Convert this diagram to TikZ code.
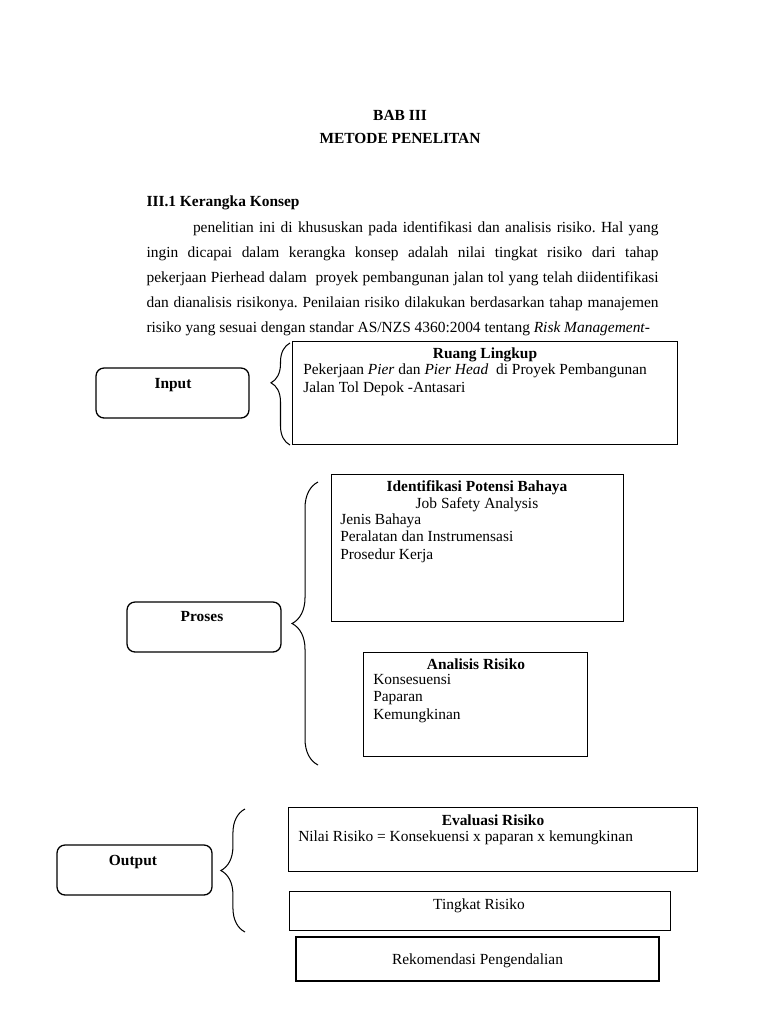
\documentclass[tikz,border=0pt]{standalone}
\usepackage{fontspec}
\setmainfont{Liberation Serif}
\usetikzlibrary{positioning,fit,decorations.pathreplacing}
\frenchspacing

\begin{document}
\begin{tikzpicture}[x=0.02734cm, y=-0.02734cm,
  font=\fontsize{12}{13.5}\selectfont,
  kotak/.style={draw, line width=0.7pt, inner sep=0pt},
  bulat/.style={draw, line width=1pt, rounded corners=2.2mm, inner sep=0pt},
  judul/.style={font=\fontsize{12}{13.5}\selectfont\bfseries, anchor=base, inner sep=0pt},
  isi/.style={align=left, anchor=base west, inner sep=0pt},
  kurawal/.style={decorate, decoration={brace, amplitude=#1}, line width=0.8pt}]
\fill[white] (0,0) rectangle (768,1024);
\useasboundingbox (0,0) rectangle (768,1024);
% judul bab
\node[judul] (bab) at (400,120) {BAB III};
\node[judul] (metode) at (400,143) {METODE PENELITAN};
\node[judul, anchor=base west] (subbab) at (146.3,206) {III.1 Kerangka Konsep};
\node[inner sep=0pt, anchor=base west, text width=14cm, align=justify,
      font=\fontsize{12}{19.6}\selectfont] (paragraf) at (146.3,232)
  {\frenchspacing\hspace*{1.27cm}penelitian ini di khususkan pada identifikasi dan analisis risiko. Hal yang\linebreak
   ingin dicapai dalam kerangka konsep adalah nilai tingkat risiko dari tahap\linebreak
   pekerjaan Pierhead dalam\ \ proyek pembangunan jalan tol yang telah diidentifikasi\linebreak
   dan dianalisis risikonya. Penilaian risiko dilakukan berdasarkan tahap manajemen\linebreak
   risiko yang sesuai dengan standar AS/NZS 4360:2004 tentang \textit{Risk Management-}\parfillskip=0pt};
% input (baris terakhir = base)
\node[bulat, fit={(96,368) (249,418)}] (input) {};
\node[judul] (inputJ) at (173,388) {Input};
\node[kotak, fit={(292,341) (677,444)}] (ruang) {};
\node[judul] (ruangJ) at (485,358) {Ruang Lingkup};
\node[isi] (ruangI) at (303,392) {Pekerjaan \textit{Pier} dan \textit{Pier Head}\ \ di Proyek Pembangunan\\Jalan Tol Depok -Antasari};
\coordinate (iBawah) at (290,445);
\coordinate (iAtas) at (290,343);
\draw[kurawal=0.52cm, decoration={aspect=0.61}] (iBawah) -- (iAtas);
% proses
\node[bulat, fit={(127,602) (281,652)}] (proses) {};
\node[judul] (prosesJ) at (202,621.5) {Proses};
\node[kotak, fit={(331,474) (623,621)}] (identifikasi) {};
\node[judul] (identJ) at (477,491) {Identifikasi Potensi Bahaya};
\node[inner sep=0pt, anchor=base] (jsa) at (477,508) {Job Safety Analysis};
\node[isi] (identI) at (340,559) {Jenis Bahaya\\Peralatan dan Instrumensasi\\Prosedur Kerja};
\node[kotak, fit={(363,652) (587,756)}] (analisis) {};
\node[judul] (analisisJ) at (476,669) {Analisis Risiko};
\node[isi] (analisisI) at (373,719) {Konsesuensi\\Paparan\\Kemungkinan};
\coordinate (pBawah) at (318,765);
\coordinate (pAtas) at (318,482);
\draw[kurawal=0.71cm] (pBawah) -- (pAtas);
% output
\node[bulat, fit={(57,845) (212,895)}] (output) {};
\node[judul] (outputJ) at (133,865) {Output};
\node[kotak, fit={(288.5,807) (697,871)}] (evaluasi) {};
\node[judul] (evaluasiJ) at (493,825) {Evaluasi Risiko};
\node[isi] (evaluasiI) at (298,841) {Nilai Risiko = Konsekuensi x paparan x kemungkinan};
\node[kotak, fit={(289,891) (670.5,930)}] (tingkat) {};
\node[inner sep=0pt, anchor=base] (tingkatT) at (479,909) {Tingkat Risiko};
\node[kotak, fit={(296,937) (659,981)}, line width=1.4pt] (rekomendasi) {};
\node[inner sep=0pt, anchor=base] (rekomendasiT) at (477.5,964) {Rekomendasi Pengendalian};
\coordinate (oBawah) at (245,932);
\coordinate (oAtas) at (245,809);
\draw[kurawal=0.66cm] (oBawah) -- (oAtas);
\end{tikzpicture}
\end{document}
